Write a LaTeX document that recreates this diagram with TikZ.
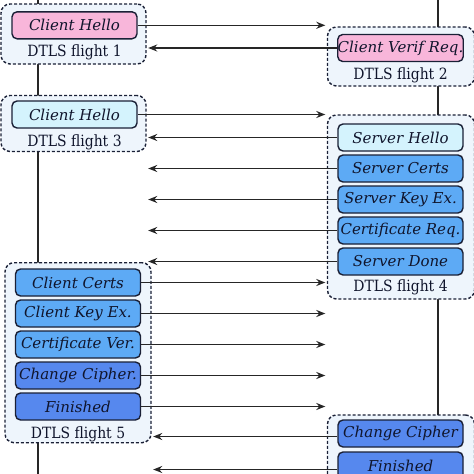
\documentclass[tikz,border=0pt]{standalone}
\usepackage{fontspec}
\setmainfont{DejaVu Serif}[FakeStretch=0.9]
\newfontfamily\msgfont{DejaVu Serif}
\usetikzlibrary{arrows.meta}
\definecolor{pinkc}{HTML}{F8B6DA}
\definecolor{cyanc}{HTML}{D4F3FD}
\definecolor{bluec}{HTML}{5DAAF5}
\definecolor{dbluec}{HTML}{5688EE}
\definecolor{grpc}{HTML}{EEF5FC}
\definecolor{edgec}{HTML}{1A2036}
\definecolor{txtc}{HTML}{10152C}
\definecolor{arrc}{HTML}{262626}
\tikzset{
  msg/.style={draw=edgec, line width=1.4pt, rounded corners=5pt, minimum width=125pt, minimum height=27pt, inner sep=0pt, text=txtc, font=\msgfont\fontsize{15}{18}\selectfont\itshape},
  grp/.style={draw=edgec, fill=grpc, line width=1.4pt, dash pattern=on 3pt off 2pt, rounded corners=9pt, inner sep=0pt},
  lbl/.style={anchor=base, inner sep=0pt, text=txtc, font=\fontsize{15.5}{18}\selectfont},
  life/.style={draw=arrc, line width=1.5pt},
  arr/.style={draw=arrc, line width=1.5pt, -{Stealth[length=9pt,width=7pt]}, shorten >=1.5pt},
}
\begin{document}
\begin{tikzpicture}[x=1pt,y=-1pt]
\useasboundingbox (0,0) rectangle (474,474);
% lifelines
\coordinate (ltop) at (38,0);
\coordinate (lbot) at (38,474);
\coordinate (rtop) at (438,0);
\coordinate (rbot) at (438,474);
\path[life] (ltop) -- (lbot);
\path[life] (rtop) -- (rbot);
% groups
\node[grp, minimum width=145pt, minimum height=60pt] (g1) at (73.5,34) {};
\node[grp, minimum width=147pt, minimum height=59pt] (g2) at (401,56.5) {};
\node[grp, minimum width=145pt, minimum height=56pt] (g3) at (73.5,123.5) {};
\node[grp, minimum width=147pt, minimum height=184pt] (g4) at (401,207) {};
\node[grp, minimum width=146pt, minimum height=180pt] (g5) at (78,352.7) {};
\node[grp, minimum width=147pt, minimum height=80pt] (g6) at (401,455) {};
% flight 1
\node[msg, fill=pinkc] (ch1) at (74.5,25.3) {Client Hello};
\node[lbl] (l1) at (74.5,56.5) {DTLS flight 1};
% flight 2
\node[msg, fill=pinkc] (cvr) at (400.5,48) {Client Verif Req.};
\node[lbl] (l2) at (400.5,79) {DTLS flight 2};
% flight 3
\node[msg, fill=cyanc] (ch3) at (74.5,114.5) {Client Hello};
\node[lbl] (l3) at (74.5,146.5) {DTLS flight 3};
% flight 4
\node[msg, fill=cyanc] (sh) at (400.5,137.5) {Server Hello};
\node[msg, fill=bluec] (sc) at (400.5,168.5) {Server Certs};
\node[msg, fill=bluec] (ske) at (400.5,199.5) {Server Key Ex.};
\node[msg, fill=bluec] (cr) at (400.5,230.5) {Certificate Req.};
\node[msg, fill=bluec] (sd) at (400.5,261.5) {Server Done};
\node[lbl] (l4) at (400.5,291.5) {DTLS flight 4};
% flight 5
\node[msg, fill=bluec] (cc) at (78,282.5) {Client Certs};
\node[msg, fill=bluec] (cke) at (78,313.5) {Client Key Ex.};
\node[msg, fill=bluec] (cv) at (78,344.5) {Certificate Ver.};
\node[msg, fill=dbluec] (chc) at (78,375.5) {Change Cipher.};
\node[msg, fill=dbluec] (fin) at (78,406.5) {Finished};
\node[lbl] (l5) at (78,438) {DTLS flight 5};
% flight 6
\node[msg, fill=dbluec] (scc) at (400.5,433.5) {Change Cipher};
\node[msg, fill=dbluec] (sfin) at (400.5,465.5) {Finished};
% arrows
\coordinate (sccw) at ([yshift=-3pt]scc.west);
\coordinate (sfinw) at ([yshift=-4pt]sfin.west);
\path[arr] (ch1.east) -- (g2.west |- ch1.east);
\path[arr] (cvr.west) -- (g1.east |- cvr.west);
\path[arr] (ch3.east) -- (g4.west |- ch3.east);
\path[arr] (sh.west) -- (g3.east |- sh.west);
\path[arr] (sc.west) -- (g3.east |- sc.west);
\path[arr] (ske.west) -- (g3.east |- ske.west);
\path[arr] (cr.west) -- (g3.east |- cr.west);
\path[arr] (sd.west) -- (g3.east |- sd.west);
\path[arr] (cc.east) -- (g4.west |- cc.east);
\path[arr] (cke.east) -- (g4.west |- cke.east);
\path[arr] (cv.east) -- (g4.west |- cv.east);
\path[arr] (chc.east) -- (g4.west |- chc.east);
\path[arr] (fin.east) -- (g4.west |- fin.east);
\path[arr] (sccw) -- (g5.east |- sccw);
\path[arr] (sfinw) -- (g5.east |- sfinw);
\end{tikzpicture}
\end{document}
